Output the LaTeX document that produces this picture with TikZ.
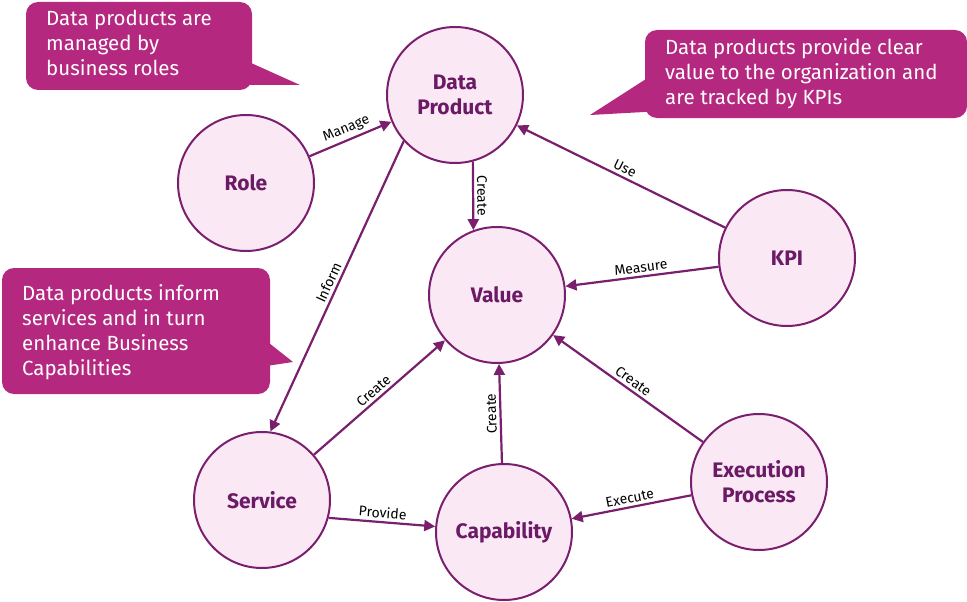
\documentclass[tikz,border=0pt]{standalone}
\usepackage{fontspec}
\setmainfont{Fira Sans}
\usetikzlibrary{arrows.meta}
\definecolor{cfill}{HTML}{B5287F}
\definecolor{nfill}{HTML}{FAE8F4}
\definecolor{nline}{HTML}{7A1E6E}
\definecolor{ntext}{HTML}{6B1A66}
\begin{document}
\begin{tikzpicture}[x=1pt,y=-1pt,
  ent/.style={circle,draw=nline,line width=2pt,fill=nfill,minimum size=136pt,inner sep=0pt,
    font=\fontsize{21}{25}\selectfont\bfseries,text=ntext,align=center},
  rel/.style={draw=nline,line width=2.2pt,-{Triangle[length=11pt,width=11pt]}},
  lab/.style={font=\fontsize{14}{16}\selectfont,text=black,sloped,above,inner sep=3pt},
  call/.style={fill=cfill,draw=none,rounded corners=12pt},
  ctext/.style={text=white,font=\fontsize{20.5}{25}\selectfont,align=left,anchor=north west,inner sep=0pt}]
\useasboundingbox (0,0) rectangle (967,602);
% callouts
\fill[cfill] (200,40) -- (300,85) -- (240,85) -- cycle;
\fill[call] (26,2) rectangle (252,90);
\node[ctext] (c1) at (46,10) {Data products are\\managed by\\business roles};
\fill[cfill] (660,70) -- (590,115) -- (680,110) -- cycle;
\fill[call] (645,30) rectangle (967,118);
\node[ctext] (c2) at (665,38) {Data products provide clear\\value to the organization and\\are tracked by KPIs};
\fill[cfill] (240,320) -- (293,362) -- (240,370) -- cycle;
\fill[call] (2,268) rectangle (270,394);
\node[ctext] (c3) at (22,284) {Data products inform\\services and in turn\\enhance Business\\Capabilities};
% nodes
\node[ent] (dp) at (455,95) {Data\\Product};
\node[ent] (role) at (246,183) {Role};
\node[ent] (val) at (497,295) {Value};
\node[ent] (kpi) at (787,258) {KPI};
\node[ent] (svc) at (262,500) {Service};
\node[ent] (cap) at (504,532) {Capability};
\node[ent] (exe) at (759,482) {Execution\\Process};
% edges
\draw[rel] (role) -- node[lab]{Manage} (dp);
\draw[rel] (dp.-75) -- node[lab]{Create} (val.110);
\draw[rel] (dp.222) -- node[lab]{Inform} (svc.83);
\draw[rel] (kpi) -- node[lab]{Use} (dp);
\draw[rel] (kpi) -- node[lab]{Measure} (val);
\draw[rel] (svc) -- node[lab]{Create} (val);
\draw[rel] (svc.-15) -- node[lab]{Provide} (cap);
\draw[rel] (cap) -- node[lab,allow upside down]{Create} (val);
\draw[rel] (exe) -- node[lab]{Create} (val);
\draw[rel] (exe) -- node[lab]{Execute} (cap);
\end{tikzpicture}
\end{document}
